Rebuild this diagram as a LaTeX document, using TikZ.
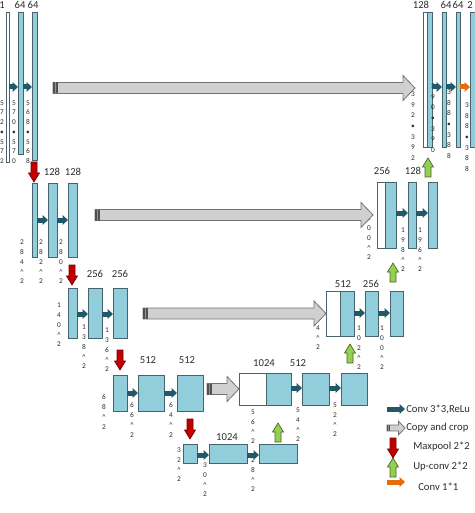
\documentclass[tikz,border=0pt]{standalone}
\usepackage{fontspec}
\setmainfont{Carlito}
\usetikzlibrary{arrows.meta,calc,fit}

\definecolor{cellblue}{RGB}{146,205,220}
\definecolor{cellline}{RGB}{70,100,110}
\definecolor{convteal}{RGB}{33,89,104}
\definecolor{copygray}{RGB}{208,208,208}
\definecolor{copyline}{RGB}{115,115,115}
\definecolor{copytail}{RGB}{80,80,80}
\definecolor{poolred}{RGB}{192,0,0}
\definecolor{poolline}{RGB}{120,0,0}
\definecolor{upgreen}{RGB}{146,208,80}
\definecolor{upline}{RGB}{79,98,40}
\definecolor{outorange}{RGB}{228,108,10}
\definecolor{labgray}{RGB}{45,45,45}

\tikzset{
  fmap/.style={draw=cellline, fill=cellblue, line width=0.6pt, inner sep=0pt, outer sep=0pt},
  cropmap/.style={fmap, fill=white},
  conv/.style={draw=convteal, line width=3.75pt, -{Triangle[width=7pt,length=4pt]}},
  outconv/.style={conv, draw=outorange},
  copyshape/.style={fill=copygray, draw=copyline, line width=0.6pt},
  copytailbox/.style={fill=copytail},
  copystripe/.style={draw=copygray!70!black, line width=0.6pt},
  num/.style={font=\fontsize{8}{9.6}\selectfont, text=labgray, inner sep=0pt},
  vlab/.style={font=\fontsize{5.5}{7.3}\selectfont, text=labgray, align=center, inner sep=0pt},
  vlabw/.style={vlab, font=\fontsize{5.5}{8}\selectfont},
  legtext/.style={num, anchor=west},
  pics/pool/.style={code={
    \filldraw[fill=poolred, draw=poolline, line width=0.5pt]
      (-3,0) -- (3,0) -- (3,11) -- (5.5,11) -- (0,20) -- (-5.5,11) -- (-3,11) -- cycle;}},
  pics/upconv/.style={code={
    \filldraw[fill=upgreen, draw=upline, line width=0.5pt]
      (-3,0) -- (3,0) -- (3,-10) -- (5.5,-10) -- (0,-19) -- (-5.5,-10) -- (-3,-10) -- cycle;}}
}

\newcommand{\copycrop}[2]{%
  \filldraw[copyshape] ($(#1)+(0,-5.5)$) -- ($(#2)+(-12,-5.5)$) -- ($(#2)+(-12,-12.5)$) -- (#2)
    -- ($(#2)+(-12,12.5)$) -- ($(#2)+(-12,5.5)$) -- ($(#1)+(0,5.5)$) -- cycle;
  \fill[copytailbox] ($(#1)+(0,-5.5)$) rectangle ($(#1)+(4.5,5.5)$);
  \draw[copystripe] ($(#1)+(2.2,-5.5)$) -- ($(#1)+(2.2,5.5)$);
}

\begin{document}
\begin{tikzpicture}[x=0.75pt,y=-0.75pt]
\useasboundingbox[fill=white] (0,0) rectangle (474,513);

% contracting path
\node[cropmap, fit={(6,12) (9,162)}] (in1) {};
\node[fmap, fit={(18,12) (23,154)}] (c1a) {};
\node[fmap, fit={(32,12) (37,160)}] (c1b) {};

\node[fmap, fit={(32,183) (37,257)}] (c2a) {};
\node[fmap, fit={(48,183) (57,257)}] (c2b) {};
\node[fmap, fit={(68,183) (77,257)}] (c2c) {};

\node[fmap, fit={(68,288) (77,338)}] (c3a) {};
\node[fmap, fit={(88,288) (102,338)}] (c3b) {};
\node[fmap, fit={(113,288) (127,338)}] (c3c) {};

\node[fmap, fit={(113,375) (127,411)}] (c4a) {};
\node[fmap, fit={(138,375) (164,411)}] (c4b) {};
\node[fmap, fit={(177,375) (203,411)}] (c4c) {};

\node[fmap, fit={(183,444) (197,463)}] (c5a) {};
\node[fmap, fit={(209,444) (247,463)}] (c5b) {};
\node[fmap, fit={(259,444) (297,463)}] (c5c) {};

% expanding path
\node[cropmap, fit={(239,373) (266,405)}] (e4w) {};
\node[fmap, fit={(266,373) (291,405)}] (e4b) {};
\node[fmap, fit={(302,373) (329,405)}] (e4c) {};
\node[fmap, fit={(341,373) (367,405)}] (e4d) {};

\node[cropmap, fit={(326,291) (340,336)}] (e3w) {};
\node[fmap, fit={(340,291) (354,336)}] (e3b) {};
\node[fmap, fit={(365,291) (378,336)}] (e3c) {};
\node[fmap, fit={(390,291) (403,336)}] (e3d) {};

\node[cropmap, fit={(377,182) (385,248)}] (e2w) {};
\node[fmap, fit={(385,182) (396,248)}] (e2b) {};
\node[fmap, fit={(408,182) (416,248)}] (e2c) {};
\node[fmap, fit={(428,182) (437,248)}] (e2d) {};

\node[cropmap, fit={(423,12) (427,147)}] (e1w) {};
\node[fmap, fit={(427,12) (432,147)}] (e1b) {};
\node[fmap, fit={(442,12) (446,147)}] (e1c) {};
\node[fmap, fit={(456,12) (460,147)}] (e1d) {};
\node[fmap, fit={(470,12) (478,147)}] (out) {};

% channel numbers
\node[num] (n1) at (2,5) {1};
\node[num] (n1a) at (20,5) {64};
\node[num] (n1b) at (33,5) {64};
\node[num] (n2b) at (52,172) {128};
\node[num] (n2c) at (73,172) {128};
\node[num] (n3b) at (95,274) {256};
\node[num] (n3c) at (120,274) {256};
\node[num] (n4b) at (148,360) {512};
\node[num] (n4c) at (187,360) {512};
\node[num] (n5b) at (227,437) {1024};
\node[num] (m4w) at (264,363) {1024};
\node[num] (m4c) at (298,363) {512};
\node[num] (m3w) at (343,284) {512};
\node[num] (m3c) at (371,284) {256};
\node[num] (m2w) at (382,171) {256};
\node[num] (m2c) at (413,171) {128};
\node[num] (m1w) at (421,5) {128};
\node[num] (m1c) at (446,5) {64};
\node[num] (m1d) at (458,5) {64};
\node[num] (m1o) at (470,5) {2};

% sizes
\node[vlab] (v1in) at (2,132) {5\\7\\2\\•\\5\\7\\2};
\node[vlab] (v1a) at (14,132) {5\\7\\0\\•\\5\\7\\0};
\node[vlab] (v1b) at (28,132) {5\\6\\8\\•\\5\\6\\8};
\node[vlab] (v2a) at (22,262) {2\\8\\4\\\textasciicircum\\2};
\node[vlab] (v2b) at (41,262) {2\\8\\2\\\textasciicircum\\2};
\node[vlab] (v2c) at (61,262) {2\\8\\0\\\textasciicircum\\2};
\node[vlab] (v3a) at (59,325) {1\\4\\0\\\textasciicircum\\2};
\node[vlab] (v3b) at (84,347) {1\\3\\8\\\textasciicircum\\2};
\node[vlab] (v3c) at (107,350) {1\\3\\6\\\textasciicircum\\2};
\node[vlab] (v4a) at (104,412) {6\\8\\\textasciicircum\\2};
\node[vlab] (v4b) at (132,420) {6\\6\\\textasciicircum\\2};
\node[vlab] (v4c) at (171,420) {6\\4\\\textasciicircum\\2};
\node[vlab] (v5a) at (179,465) {3\\2\\\textasciicircum\\2};
\node[vlab] (v5b) at (205,480) {3\\0\\\textasciicircum\\2};
\node[vlab] (v5c) at (253,475) {2\\8\\\textasciicircum\\2};
\node[vlab] (w4w) at (253,427) {5\\6\\\textasciicircum\\2};
\node[vlab] (w4c) at (298,425) {5\\4\\\textasciicircum\\2};
\node[vlab] (w4d) at (335,420) {5\\2\\\textasciicircum\\2};
\node[vlab] (w3w) at (318,328) {1\\0\\4\\\textasciicircum\\2};
\node[vlab] (w3c) at (359,348) {1\\0\\2\\\textasciicircum\\2};
\node[vlab] (w3d) at (382,348) {1\\0\\0\\\textasciicircum\\2};
\node[vlab] (w2w) at (369,238) {2\\0\\0\\\textasciicircum\\2};
\node[vlab] (w2c) at (403,250) {1\\9\\8\\\textasciicircum\\2};
\node[vlab] (w2d) at (420,250) {1\\9\\6\\\textasciicircum\\2};
\node[vlabw] (w1w) at (413,126) {3\\9\\2\\•\\3\\9\\2};
\node[vlabw] (w1c) at (433,118) {3\\9\\0\\•\\3\\9\\0};
\node[vlabw] (w1d) at (449,124) {3\\8\\8\\•\\3\\8\\8};
\node[vlabw] (w1o) at (467,137) {3\\8\\8\\•\\3\\8\\8};

% conv 3x3
\coordinate (r1) at (0,87);
\coordinate (r2) at (0,220);
\coordinate (r3) at (0,314);
\coordinate (r4) at (0,393);
\coordinate (r5) at (0,455);
\coordinate (q4) at (0,388);
\coordinate (q3) at (0,313);
\coordinate (q2) at (0,213);
\draw[conv] (in1.east |- r1) -- (c1a.west |- r1);
\draw[conv] (c1a.east |- r1) -- (c1b.west |- r1);
\draw[conv] (c2a.east |- r2) -- (c2b.west |- r2);
\draw[conv] (c2b.east |- r2) -- (c2c.west |- r2);
\draw[conv] (c3a.east |- r3) -- (c3b.west |- r3);
\draw[conv] (c3b.east |- r3) -- (c3c.west |- r3);
\draw[conv] (c4a.east |- r4) -- (c4b.west |- r4);
\draw[conv] (c4b.east |- r4) -- (c4c.west |- r4);
\draw[conv] (c5a.east |- r5) -- (c5b.west |- r5);
\draw[conv] (c5b.east |- r5) -- (c5c.west |- r5);
\draw[conv] (e4b.east |- q4) -- (e4c.west |- q4);
\draw[conv] (e4c.east |- q4) -- (e4d.west |- q4);
\draw[conv] (e3b.east |- q3) -- (e3c.west |- q3);
\draw[conv] (e3c.east |- q3) -- (e3d.west |- q3);
\draw[conv] (e2b.east |- q2) -- (e2c.west |- q2);
\draw[conv] (e2c.east |- q2) -- (e2d.west |- q2);
\draw[conv] (e1b.east |- r1) -- (e1c.west |- r1);
\draw[conv] (e1c.east |- r1) -- (e1d.west |- r1);
\draw[outconv] (e1d.east |- r1) -- (out.west |- r1);

% copy and crop
\coordinate (s1) at (53,88);
\coordinate (h1) at (415,88);
\coordinate (s2) at (95,215);
\coordinate (h2) at (373,215);
\coordinate (s3) at (143,313.5);
\coordinate (s4) at (207,389);
\copycrop{s1}{h1}
\copycrop{s2}{h2}
\copycrop{s3}{e3w.west}
\copycrop{s4}{e4w.west}

% max pool and up-conv
\pic (mp1) at (34,162) {pool};
\pic (mp2) at (72,265) {pool};
\pic (mp3) at (120,350) {pool};
\pic (mp4) at (190,419) {pool};
\pic (up4) at (278,442) {upconv};
\pic (up3) at (350,363) {upconv};
\pic (up2) at (393,282) {upconv};
\pic (up1) at (428,177) {upconv};

% legend
\coordinate (k1) at (387,409);
\coordinate (k1e) at (405,409);
\coordinate (k2) at (387,428);
\coordinate (k2e) at (405,428);
\coordinate (k5) at (387,482);
\coordinate (k5e) at (405,482);
\draw[conv] (k1) -- (k1e);
\begin{scope}[scale=0.55]
\copycrop{k2}{k2e}
\end{scope}
\pic (kp) at (393,438) {pool};
\pic (ku) at (393,477) {upconv};
\draw[outconv] (k5) -- (k5e);
\node[legtext] (t1) at (406,409) {Conv 3*3,ReLu};
\node[legtext] (t2) at (406,428) {Copy and crop};
\node[legtext] (t3) at (413,447) {Maxpool 2*2};
\node[legtext] (t4) at (413,467) {Up-conv 2*2};
\node[legtext] (t5) at (418,487) {Conv 1*1};

\end{tikzpicture}
\end{document}
